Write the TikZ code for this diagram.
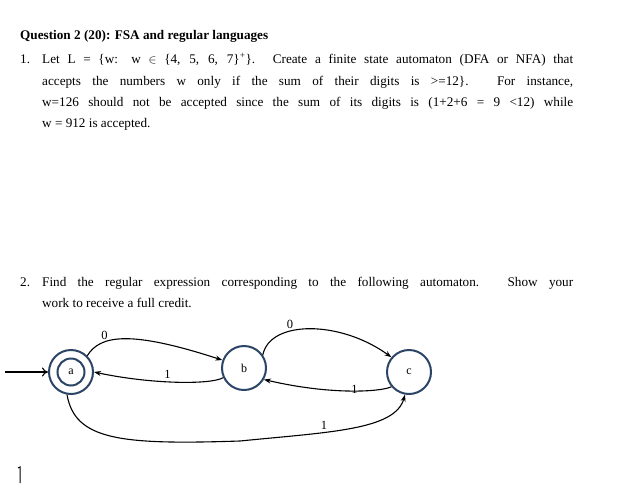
\documentclass[tikz,border=0pt]{standalone}
\usepackage{fontspec}
\setmainfont{Liberation Serif}
\usetikzlibrary{arrows.meta}
\definecolor{stc}{HTML}{2B4566}
\begin{document}
\begin{tikzpicture}[x=1pt,y=-1pt,
  txt/.style={anchor=base west,inner sep=0pt,font=\fontsize{13.2}{16}\selectfont},
  st/.style={circle,draw=stc,line width=2pt,minimum size=44pt,inner sep=0pt,font=\fontsize{12}{14}\selectfont},
  lbl/.style={inner sep=0pt,font=\fontsize{12.5}{14}\selectfont},
  ed/.style={line width=1.1pt,-{Stealth[length=7pt,width=5pt]}}]
\useasboundingbox (0,0) rectangle (621,501);
\node[txt,font=\fontsize{13.2}{16}\selectfont\bfseries] (t0) at (20,39) {Question 2 (20): FSA and regular languages};
\node[txt] (n1) at (20,63) {1.};
\node[txt] (l1) at (42,63) {\makebox[531pt][s]{Let L = \{w: w $\in$ \{4, 5, 6, 7\}\textsuperscript{+}\}. Create a finite state automaton (DFA or NFA) that}};
\node[txt] (l2) at (42,85) {\makebox[531pt][s]{accepts the numbers w only if the sum of their digits is >=12\}. For instance,}};
\node[txt] (l3) at (42,106) {\makebox[531pt][s]{w=126 should not be accepted since the sum of its digits is (1+2+6 = 9 <12) while}};
\node[txt] (l4) at (42,127) {w = 912 is accepted.};
\node[txt] (n2) at (20,286) {2.};
\node[txt] (m1) at (42,286) {\makebox[531pt][s]{Find the regular expression corresponding to the following automaton. Show your}};
\node[txt] (m2) at (42,307) {work to receive a full credit.};

\node[st] (a) at (71,372) {};
\node[circle,draw=stc,line width=2pt,minimum size=27pt,inner sep=0pt,font=\fontsize{12}{14}\selectfont] (ai) at (71,372) {a};
\node[st] (b) at (244,368) {b};
\node[st] (c) at (409,372) {c};
\coordinate (s) at (5,372);
\draw[line width=1.1pt,-{To[length=6pt,width=9pt]}] (s) -- (a.west);

\draw[ed] (a.45) .. controls (100,335) and (130,330) .. (b.160) node[lbl,pos=0.3,above=2pt]{0};
\draw[ed] (b.205) .. controls (210,385) and (150,384) .. (a.east) node[lbl,pos=0.55,above=3pt]{1};
\draw[ed] (b.35) .. controls (270,320) and (340,320) .. (c.140) node[lbl,pos=0.35,above=2pt]{0};
\draw[ed] (c.220) .. controls (380,392) and (330,395) .. (b.-30) node[lbl,pos=0.45,above=-3pt]{1};
\draw[ed] (a.-100) .. controls (75,440) and (120,445) .. (240,441) .. controls (330,432) and (395,430) .. (c.-100) node[lbl,pos=0.35,above=2pt]{1};
\draw[line width=1pt] (18,468) -- (20,467) -- (20,483);
\end{tikzpicture}
\end{document}
